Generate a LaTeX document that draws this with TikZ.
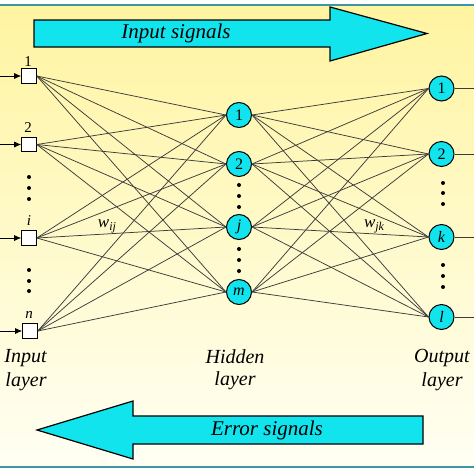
\documentclass[tikz,border=0pt]{standalone}
\usepackage{fontspec}
\setmainfont{Liberation Serif}
\usetikzlibrary{arrows.meta,shapes.geometric}
\definecolor{nodecyan}{RGB}{18,228,238}
\definecolor{teal}{RGB}{60,150,165}
\definecolor{bgtop}{RGB}{255,244,160}
\definecolor{bgbot}{RGB}{255,255,244}
\definecolor{wire}{RGB}{60,60,60}
\tikzset{
  inbox/.style={draw=black,fill=white,line width=1.1pt,minimum size=14.5pt,inner sep=0pt},
  neuron/.style={circle,draw=black,fill=nodecyan,line width=1pt,minimum size=25pt,inner sep=0pt,font=\fontsize{16}{16}\selectfont},
  wirestyle/.style={draw=wire,line width=0.75pt},
  fatarrow/.style={draw=black,fill=nodecyan,line width=1.2pt},
  lbl/.style={font=\itshape\fontsize{20}{20}\selectfont,inner sep=0pt},
  idx/.style={font=\fontsize{15}{15}\selectfont,inner sep=0pt},
  dotmark/.style={circle,fill=black,minimum size=4pt,inner sep=0pt},
  wlabel/.style={font=\itshape\fontsize{17}{17}\selectfont,inner sep=0pt}
}
\begin{document}
\begin{tikzpicture}[x=1pt,y=-1pt]
\useasboundingbox (0,0) rectangle (474,474);
\fill[white] (0,0) rectangle (474,474);
\shade[top color=bgtop,bottom color=bgbot] (0,5) rectangle (474,467);
\draw[teal,line width=1.5pt] (0,5) -- (474,5);
\draw[teal,line width=1.5pt] (0,467) -- (474,467);

% big arrows
\draw[fatarrow] (34,20) -- (330,20) -- (330,7) -- (427,33.5) -- (330,61) -- (330,47) -- (34,47) -- cycle;
\node[lbl,font=\itshape\fontsize{21}{21}\selectfont] (insig) at (176,33) {Input signals};
\draw[fatarrow] (423,416) -- (133,416) -- (133,401) -- (37,430) -- (133,459) -- (133,444) -- (423,444) -- cycle;
\node[lbl,font=\itshape\fontsize{21}{21}\selectfont] (errsig) at (267,430) {Error signals};

% input nodes
\node[inbox] (i1) at (29,76) {};
\node[inbox] (i2) at (29,144.5) {};
\node[inbox] (ii) at (29,238) {};
\node[inbox] (in) at (30,331) {};
\node[idx] (li1) at (28,62) {1};
\node[idx] (li2) at (28,128) {2};
\node[idx,font=\itshape\fontsize{15}{15}\selectfont] (lii) at (29,221) {i};
\node[idx,font=\itshape\fontsize{15}{15}\selectfont] (lin) at (29,315) {n};
\foreach \n/\y in {i1/76,i2/144.5,ii/238,in/331}{
  \coordinate (s\n) at (0,\y);
  \draw[black,line width=0.8pt,-{Latex[length=7pt,width=6pt]}] (s\n) -- (\n.west);
}
\foreach \y [count=\k] in {177,188,199,270,281,291}{
  \node[dotmark] (di\k) at (29,\y) {};
}

% hidden nodes
\node[neuron] (h1) at (239,115) {1};
\node[neuron] (h2) at (239,164) {2};
\node[neuron] (hj) at (239,227) {\itshape j};
\node[neuron] (hm) at (239,292) {\itshape m};
\foreach \y [count=\k] in {185,196,207,249,260,271}{
  \node[dotmark] (dh\k) at (239,\y) {};
}

% output nodes
\node[neuron] (o1) at (441.5,88.5) {1};
\node[neuron] (o2) at (441.5,154) {2};
\node[neuron] (ok) at (441.5,237) {\itshape k};
\node[neuron] (ol) at (441.5,317) {\itshape l};
\foreach \y [count=\k] in {183,193,204,265,276,287}{
  \node[dotmark] (do\k) at (443,\y) {};
}
\foreach \n/\y in {o1/88.5,o2/154,ok/237,ol/317}{
  \coordinate (e\n) at (474,\y);
  \draw[wirestyle] (\n.east) -- (e\n);
}

% connections
\foreach \a in {i1,i2,ii,in}{
  \foreach \b in {h1,h2,hj,hm}{
    \draw[wirestyle] (\a.east) -- (\b.west);
  }
}
\foreach \a in {h1,h2,hj,hm}{
  \foreach \b in {o1,o2,ok,ol}{
    \draw[wirestyle] (\a.east) -- (\b.west);
  }
}

% weight labels
\node[wlabel] (wij) at (107,226) {w\raisebox{-3pt}{\fontsize{12}{12}\selectfont ij}};
\node[wlabel] (wjk) at (374,226) {w\raisebox{-3pt}{\fontsize{12}{12}\selectfont jk}};

% layer labels
\node[lbl] (inl1) at (25.5,358) {Input};
\node[lbl] (inl2) at (26,382) {layer};
\node[lbl] (hil1) at (235,357) {Hidden};
\node[lbl] (hil2) at (235,381) {layer};
\node[lbl] (oul1) at (442,358) {Output};
\node[lbl] (oul2) at (442,382) {layer};
\end{tikzpicture}
\end{document}
